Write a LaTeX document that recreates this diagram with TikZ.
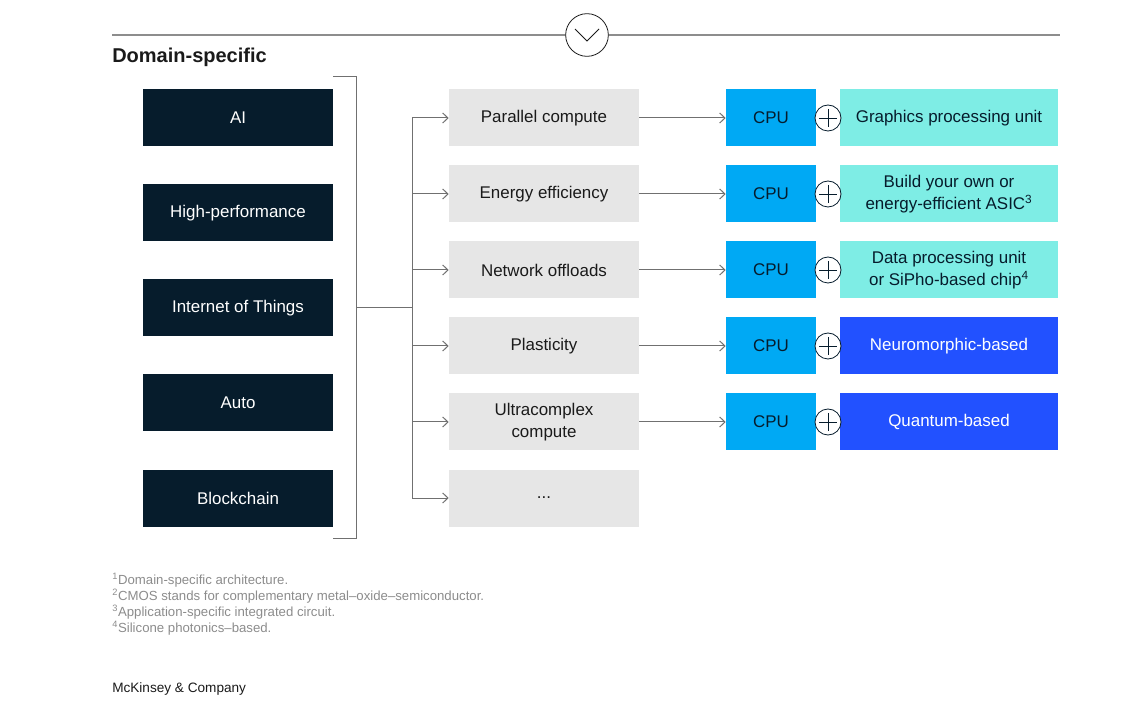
\documentclass[tikz,border=0pt]{standalone}
\usepackage{fontspec}
\setmainfont{Liberation Sans}
\usepackage{tikz}
\usetikzlibrary{arrows.meta}
\usetikzlibrary{calc}

\definecolor{navy}{HTML}{061C2C}
\definecolor{ink}{HTML}{1A1A1A}
\definecolor{boxgray}{HTML}{E6E6E6}
\definecolor{cpublue}{HTML}{00A9F4}
\definecolor{chipaqua}{HTML}{7EEDE5}
\definecolor{deepblue}{HTML}{2251FF}
\definecolor{linegray}{HTML}{707070}
\definecolor{notegray}{HTML}{8C8C8C}

\begin{document}
\begin{tikzpicture}[x=0.75pt, y=-0.75pt,
	every node/.style={font=\fontsize{12.7}{16}\selectfont, inner sep=0pt, align=center},
	dom/.style={fill=navy, text=white, minimum width=142.5pt, minimum height=42.75pt},
	goal/.style={fill=boxgray, text=ink, minimum width=142.5pt, minimum height=42.75pt},
	cpu/.style={fill=cpublue, text=navy, minimum width=67.5pt, minimum height=42.75pt},
	chip/.style={fill=chipaqua, text=navy, minimum width=163.5pt, minimum height=42.75pt},
	qchip/.style={chip, fill=deepblue, text=white},
	plus/.style={circle, draw=navy, fill=white, line width=0.6pt, minimum size=19.5pt,
		path picture={\draw[navy, line width=0.6pt]
			([xshift=-6.5pt]path picture bounding box.center) -- ([xshift=6.5pt]path picture bounding box.center)
			([yshift=-6.5pt]path picture bounding box.center) -- ([yshift=6.5pt]path picture bounding box.center);}},
	rule/.style={draw=linegray, line width=0.75pt},
	link/.style={rule, -{Straight Barb[length=4pt,width=7.5pt]}}
	]
	\useasboundingbox (0,0) rectangle (1129,720);

	% header
	\draw[linegray!80, line width=1.1pt] (112,35) -- (1060,35);
	\node[circle, draw=ink, fill=white, line width=0.6pt, minimum size=32pt] (open) at (587,35) {};
	\draw[ink, line width=0.6pt] ($(open)+(-12,-6)$) -- ($(open)+(0,6)$) -- ($(open)+(12,-6)$);
	\node[anchor=base west, font=\fontsize{15}{18}\selectfont\bfseries, text=ink] (title) at (112,63) {Domain-specific};

	% domains
	\node[dom] (ai) at (238,118) {AI};
	\node[dom] (hpc) at (238,213) {High-performance};
	\node[dom] (iot) at (238,308) {Internet of Things};
	\node[dom] (auto) at (238,403) {Auto};
	\node[dom] (bc) at (238,498) {Blockchain};

	% needs
	\node[goal] (p1) at (544,118) {Parallel compute};
	\node[goal] (p2) at (544,194) {Energy efficiency};
	\node[goal] (p3) at (544,270) {Network offloads};
	\node[goal] (p4) at (544,346) {Plasticity};
	\node[goal] (p5) at (544,422) {Ultracomplex\\compute};
	\node[goal] (p6) at (544,498) {...};

	% cpu + accelerator
	\node[cpu] (c1) at (771,118) {CPU};
	\node[cpu] (c2) at (771,194) {CPU};
	\node[cpu] (c3) at (771,270) {CPU};
	\node[cpu] (c4) at (771,346) {CPU};
	\node[cpu] (c5) at (771,422) {CPU};
	\node[chip] (a1) at (949,118) {Graphics processing unit};
	\node[chip] (a2) at (949,194) {Build your own or\\energy-efficient ASIC\textsuperscript{3}};
	\node[chip] (a3) at (949,270) {Data processing unit\\or SiPho-based chip\textsuperscript{4}};
	\node[qchip] (a4) at (949,346) {Neuromorphic-based};
	\node[qchip] (a5) at (949,422) {Quantum-based};
	\node[plus] (s1) at (828,118) {};
	\node[plus] (s2) at (828,194) {};
	\node[plus] (s3) at (828,270) {};
	\node[plus] (s4) at (828,346) {};
	\node[plus] (s5) at (828,422) {};

	% connectors
	\coordinate (spine) at (412,308);
	\draw[rule] (333,77) -| (356,538) -- (333,538);
	\draw[rule] (356,308) -- (spine);
	\draw[rule] (p1.west -| spine) -- (p6.west -| spine);
	\path[every edge/.style={link}]
	(p1.west -| spine) edge (p1.west)
	(p2.west -| spine) edge (p2.west)
	(p3.west -| spine) edge (p3.west)
	(p4.west -| spine) edge (p4.west)
	(p5.west -| spine) edge (p5.west)
	(p6.west -| spine) edge (p6.west)
	(p1) edge (c1)
	(p2) edge (c2)
	(p3) edge (c3)
	(p4) edge (c4)
	(p5) edge (c5)
	;

	% notes
	\node[anchor=north west, align=left, text=notegray, font=\fontsize{9.9}{12}\selectfont] (notes) at (112,573)
	{\textsuperscript{1}Domain-specific architecture.\\
	\textsuperscript{2}CMOS stands for complementary metal--oxide--semiconductor.\\
	\textsuperscript{3}Application-specific integrated circuit.\\
	\textsuperscript{4}Silicone photonics--based.};
	\node[anchor=base west, text=ink, font=\fontsize{10.2}{12}\selectfont] (brand) at (112,692) {McKinsey \& Company};
\end{tikzpicture}
\end{document}
